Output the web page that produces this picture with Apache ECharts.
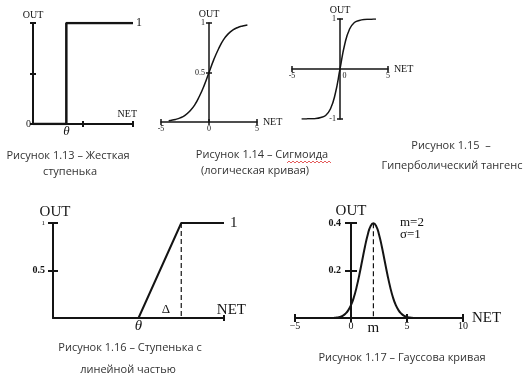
<!DOCTYPE html>
<html><head><meta charset="utf-8">
<script src="https://cdn.jsdelivr.net/npm/echarts@6/dist/echarts.min.js"></script>
<style>html,body{margin:0;padding:0;background:#fff}#c{width:529px;height:382px}</style>
</head><body><div id="c"></div>
<script>
// ---- data ----
// Fig 1.13 hard step
const stepNet = [0, 2, 2, 6];
const stepOut = [0, 0, 1, 1];
// Fig 1.14 sigmoid
const sigNet = [-4.2, -4, -3.5, -3, -2.5, -2, -1.5, -1, -0.5, 0, 0.5, 1, 1.5, 2, 2.5, 3, 3.5, 4];
const sigOut = [0.012, 0.016, 0.026, 0.042, 0.068, 0.11, 0.17, 0.26, 0.37, 0.5, 0.63, 0.74, 0.83, 0.89, 0.93, 0.955, 0.97, 0.98];
// Fig 1.15 hyperbolic tangent
const thNet = [-4, -3.5, -3, -2.5, -2, -1.5, -1, -0.5, 0, 0.5, 1, 1.5, 2, 2.5, 3, 3.5, 3.75];
const thOut = [-1, -0.998, -0.995, -0.99, -0.97, -0.93, -0.8, -0.5, 0, 0.5, 0.8, 0.93, 0.97, 0.99, 0.995, 0.998, 1];
// Fig 1.16 step with linear part
const rampNet = [0, 5, 7.5, 10];
const rampOut = [0, 0, 1, 1];
const rampDashNet = [7.5, 7.5];
const rampDashOut = [1, 0];
// Fig 1.17 gaussian, m=2, sigma=1
const gNet = [-1.5,-1.25,-1,-0.75,-0.5,-0.25,0,0.25,0.5,0.75,1,1.25,1.5,1.75,2,2.25,2.5,2.75,3,3.25,3.5,3.75,4,4.25,4.5,4.75,5,5.25,5.5];
const gOut = [0.001,0.002,0.004,0.009,0.018,0.032,0.054,0.086,0.13,0.183,0.242,0.301,0.352,0.387,0.399,0.387,0.352,0.301,0.242,0.183,0.13,0.086,0.054,0.032,0.018,0.009,0.004,0.002,0.001];
const gDashNet = [2, 2];
const gDashOut = [0.399, 0];
// tick labels
const stepXLabVals = [2], stepXLabText = ['θ'];
const stepYLabVals = [0], stepYLabText = ['0'];
const sigXLabVals = [-5, 0, 5], sigXLabText = ['-5', '0', '5'];
const sigYLabVals = [0.5, 1], sigYLabText = ['0.5', '1'];
const thXLabVals = [-5, 0, 5], thXLabText = ['-5', '{r|0}', '5'];
const thYLabVals = [-1, 1], thYLabText = ['-1', '1'];
const rampXLabVals = [5], rampXLabText = ['θ'];
const rampYLabVals = [0.5, 1], rampYLabText = ['{a|0.5}', '{b|1}'];
const gXLabVals = [-5, 0, 2, 5, 10], gXLabText = ['−5', '0', '{m|m}', '5', '10'];
const gYLabVals = [0.2, 0.4], gYLabText = ['0.2', '0.4'];

const SERIF = '"Liberation Serif","Times New Roman",serif';
const SANS = '"Open Sans","Noto Sans",sans-serif';
const INK = '#141414';
const zip = (a, b) => a.map((v, i) => [v, b[i]]);
const lookup = (vals, text) => v => { for (let i = 0; i < vals.length; i++) if (Math.abs(vals[i] - v) < 1e-9) return text[i]; return ''; };

function makeAxis(dim, g, min, max, o) {
  const base = { type: 'value', gridIndex: g, min, max, splitLine: { show: false }, position: dim === 'x' ? 'bottom' : 'left', offset: o.offset || 0 };
  const tl = o.tickLen || 3;
  const main = Object.assign({}, base, {
    axisLine: { show: true, onZero: false, lineStyle: { color: INK, width: o.lw || 1.5 } },
    axisTick: { show: true, inside: false, length: tl, customValues: o.ticks, lineStyle: { color: INK, width: o.lw || 1.5 } },
    axisLabel: { show: true, customValues: o.labVals, formatter: lookup(o.labVals, o.labText), color: INK, fontFamily: SERIF,
      fontSize: o.fs || 8, fontStyle: o.italic ? 'italic' : 'normal', fontWeight: o.bold ? 'bold' : 'normal',
      margin: o.margin == null ? 3 : o.margin, rich: o.rich || {} },
    name: o.name || '', nameLocation: 'end', nameGap: o.nameGap || 3,
    nameTextStyle: Object.assign({ color: INK, fontFamily: SERIF, fontSize: o.nfs || 10 }, o.nts || {})
  });
  const helper = Object.assign({}, base, {
    axisLine: { show: false, onZero: false },
    axisTick: { show: true, inside: true, length: tl, customValues: o.ticks, lineStyle: { color: INK, width: o.lw || 1.5 } },
    axisLabel: { show: false }
  });
  return [main, helper];
}

const grids = [
  { left: 33, top: 23, width: 100, height: 101 },
  { left: 161, top: 23, width: 96, height: 99 },
  { left: 292, top: 19, width: 96, height: 100 },
  { left: 53, top: 223, width: 171, height: 95 },
  { left: 295, top: 223, width: 168, height: 95 }
];

const xAxes = [].concat(
  makeAxis('x', 0, 0, 6, { lw: 2, ticks: [3, 6], labVals: stepXLabVals, labText: stepXLabText, fs: 13, italic: true, margin: 1,
    name: 'NET', nameGap: 4, nfs: 10, nts: { align: 'right', verticalAlign: 'bottom', padding: [0, 0, 5, 0] } }),
  makeAxis('x', 1, -5, 5, { lw: 1.5, ticks: [-5, 0, 5], labVals: sigXLabVals, labText: sigXLabText, fs: 8,
    name: 'NET', nameGap: 2, nfs: 10, nts: { padding: [0, 0, 3, 0] } }),
  makeAxis('x', 2, -5, 5, { lw: 1.5, offset: -50, ticks: [-5, 5], labVals: thXLabVals, labText: thXLabText, fs: 8,
    rich: { r: { fontSize: 8, fontFamily: SERIF, color: INK, padding: [0, 0, 0, 9] } },
    name: 'NET', nameGap: 3, nfs: 10, nts: { padding: [0, 0, 3, 0] } }),
  makeAxis('x', 3, 0, 10, { lw: 2, ticks: [10], labVals: rampXLabVals, labText: rampXLabText, fs: 15, italic: true, margin: 1,
    name: 'NET', nameGap: 22, nfs: 15, nts: { align: 'right', verticalAlign: 'bottom', padding: [0, 0, 0, 0] } }),
  makeAxis('x', 4, -5, 10, { lw: 2, ticks: [-5, 0, 5, 10], labVals: gXLabVals, labText: gXLabText, fs: 10, margin: 3, tickLen: 4,
    rich: { m: { fontSize: 15, fontFamily: SERIF, color: INK, padding: [0, 0, 2, 0] } },
    name: 'NET', nameGap: 6, nfs: 15, nts: { padding: [0, 0, 3, 0] } })
);
const yAxes = [].concat(
  makeAxis('y', 0, 0, 1, { lw: 2, ticks: [0, 0.5, 1], labVals: stepYLabVals, labText: stepYLabText, fs: 10, margin: 2,
    name: 'OUT', nameGap: 3, nfs: 10 }),
  makeAxis('y', 1, 0, 1, { lw: 1.5, offset: -48, ticks: [0.5, 1], labVals: sigYLabVals, labText: sigYLabText, fs: 8, margin: 4,
    name: 'OUT', nameGap: 3, nfs: 10 }),
  makeAxis('y', 2, -1, 1, { lw: 1.5, offset: -48, ticks: [-1, 1], labVals: thYLabVals, labText: thYLabText, fs: 8, margin: 4,
    name: 'OUT', nameGap: 3, nfs: 10 }),
  makeAxis('y', 3, 0, 1, { lw: 2, ticks: [0.5, 1], labVals: rampYLabVals, labText: rampYLabText, fs: 10, margin: 8, tickLen: 5,
    rich: { a: { fontSize: 10, fontFamily: SERIF, color: INK, fontWeight: 'bold' }, b: { fontSize: 7, fontFamily: SERIF, color: INK } },
    name: 'OUT', nameGap: 2, nfs: 15, nts: { padding: [0, 0, 0, 4] } }),
  makeAxis('y', 4, 0, 0.4, { lw: 2, offset: -56, ticks: [0.2, 0.4], labVals: gYLabVals, labText: gYLabText, fs: 10, bold: true, margin: 10, tickLen: 6,
    name: 'OUT', nameGap: 4, nfs: 15 })
);

const line = (g, data, extra) => Object.assign({
  type: 'line', xAxisIndex: 2 * g, yAxisIndex: 2 * g, data, symbol: 'none', silent: true,
  lineStyle: { color: INK, width: 1.5 }
}, extra || {});

const series = [
  line(0, zip(stepNet, stepOut), { lineStyle: { color: INK, width: 2.5 },
    endLabel: { show: true, formatter: '1', fontFamily: SERIF, fontSize: 12, color: INK, distance: 3 } }),
  line(1, zip(sigNet, sigOut), { smooth: true }),
  line(2, zip(thNet, thOut), { smooth: true }),
  line(3, zip(rampNet, rampOut), { lineStyle: { color: INK, width: 2 },
    endLabel: { show: true, formatter: '1', fontFamily: SERIF, fontSize: 15, color: INK, distance: 6 },
    markPoint: { symbol: 'circle', symbolSize: 0, silent: true,
      label: { show: true, formatter: 'Δ', position: 'top', distance: 2, fontFamily: SERIF, fontSize: 13, color: INK },
      data: [{ coord: [6.6, 0] }] } }),
  line(3, zip(rampDashNet, rampDashOut), { lineStyle: { color: INK, width: 1.2, type: [5, 3] } }),
  line(4, zip(gNet, gOut), { smooth: true, lineStyle: { color: INK, width: 2 } }),
  line(4, zip(gDashNet, gDashOut), { lineStyle: { color: INK, width: 1.2, type: [5, 3] } })
];

const cap = (x, y, t) => ({ type: 'text', x, y, silent: true,
  style: { text: t, fill: '#333', font: '11px ' + SANS, textAlign: 'center', textVerticalAlign: 'middle' } });
const txt = (x, y, t, size) => ({ type: 'text', x, y, silent: true,
  style: { text: t, fill: INK, font: size + 'px ' + SERIF, textAlign: 'left', textVerticalAlign: 'middle' } });

const wave = [];
for (let i = 0; i <= 22; i++) wave.push([287 + i * 2, 162 + (i % 2 ? -1 : 1)]);

const graphic = [
  cap(68, 156, 'Рисунок 1.13 – Жесткая'),
  cap(70, 172, 'ступенька'),
  cap(262, 155, 'Рисунок 1.14 – Сигмоида'),
  cap(255, 171, '(логическая кривая)'),
  cap(451, 146, 'Рисунок 1.15  –'),
  cap(452, 166, 'Гиперболический тангенс'),
  cap(130, 348, 'Рисунок 1.16 – Ступенька с'),
  cap(128, 370, 'линейной частью'),
  cap(402, 358, 'Рисунок 1.17 – Гауссова кривая'),
  txt(400, 223, 'm=2', 13),
  txt(400, 235, 'σ=1', 13),
  { type: 'polyline', silent: true, shape: { points: wave }, style: { stroke: '#d33', lineWidth: 0.8, fill: null } }
];

const chart = echarts.init(document.getElementById('c'), null, { renderer: 'canvas' });
chart.setOption({
  animation: false,
  backgroundColor: '#fff',
  grid: grids,
  xAxis: xAxes,
  yAxis: yAxes,
  series,
  graphic
});
</script></body></html>
